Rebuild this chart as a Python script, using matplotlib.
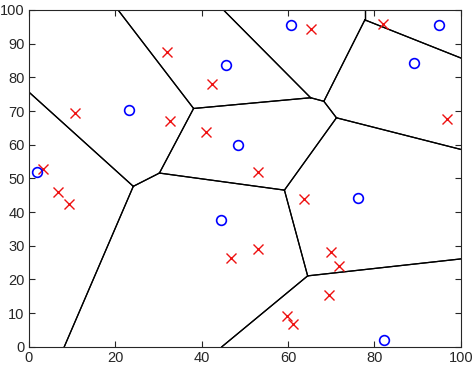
import numpy as np
import matplotlib
matplotlib.use("Agg")
import matplotlib.pyplot as plt

# blue sites (voronoi generators)
site_x = [1.9, 23.2, 45.6, 48.4, 60.7, 89.2, 94.9, 44.5, 76.2, 82.2]
site_y = [51.9, 70.3, 83.7, 59.9, 95.4, 84.2, 95.4, 37.6, 44.3, 2.0]

# red crosses
pt_x = [31.9, 42.3, 10.7, 32.7, 40.9, 3.3, 65.3, 82.0, 96.9, 53.0,
        6.8, 9.3, 46.9, 63.8, 53.1, 70.0, 71.9, 69.6, 59.8, 61.2]
pt_y = [87.4, 77.9, 69.3, 67.1, 63.7, 52.8, 94.4, 95.8, 67.5, 51.9,
        45.9, 42.4, 26.4, 43.9, 29.0, 28.1, 24.0, 15.4, 9.1, 6.7]

xlim = (0, 100)
ylim = (0, 100)


def clip(poly, a, b, c):
    # keep the part of poly with a*x + b*y <= c
    out = []
    n = len(poly)
    for k in range(n):
        p = poly[k]
        q = poly[(k + 1) % n]
        fp = a * p[0] + b * p[1] - c
        fq = a * q[0] + b * q[1] - c
        if fp <= 0:
            out.append(p)
        if fp * fq < 0:
            t = fp / (fp - fq)
            out.append((p[0] + t * (q[0] - p[0]), p[1] + t * (q[1] - p[1])))
    return out


def on_border(p, q):
    eps = 1e-6
    for v in (xlim[0], xlim[1]):
        if abs(p[0] - v) < eps and abs(q[0] - v) < eps:
            return True
    for v in (ylim[0], ylim[1]):
        if abs(p[1] - v) < eps and abs(q[1] - v) < eps:
            return True
    return False


fig, ax = plt.subplots(figsize=(4.74, 3.69), dpi=100)
fig.subplots_adjust(left=0.061, right=0.972, bottom=0.060, top=0.973)

# voronoi cells by half-plane clipping of the box
S = np.column_stack([site_x, site_y])
for i in range(len(S)):
    cell = [(xlim[0], ylim[0]), (xlim[1], ylim[0]), (xlim[1], ylim[1]), (xlim[0], ylim[1])]
    for j in range(len(S)):
        if i == j:
            continue
        a, b = S[j] - S[i]
        c = (np.dot(S[j], S[j]) - np.dot(S[i], S[i])) / 2
        cell = clip(cell, a, b, c)
    for k in range(len(cell)):
        p = cell[k]
        q = cell[(k + 1) % len(cell)]
        if not on_border(p, q):
            ax.plot([p[0], q[0]], [p[1], q[1]], color='k', lw=0.9)

ax.plot(pt_x, pt_y, 'x', color='#ee1111', ms=7, mew=1.0, ls='none')
ax.plot(site_x, site_y, 'o', mfc='none', mec='#0000ff', ms=7, mew=1.2, ls='none')

ax.set_xlim(xlim)
ax.set_ylim(ylim)
ax.set_xticks(np.arange(0, 101, 20))
ax.set_yticks(np.arange(0, 101, 10))
ax.tick_params(direction='in', top=True, right=True, length=4, width=0.8,
               labelsize=10.5, colors='#262626', pad=3)
for s in ax.spines.values():
    s.set_color('#262626')
    s.set_linewidth(0.8)
for lab in ax.get_xticklabels() + ax.get_yticklabels():
    lab.set_family('Liberation Sans')

fig.savefig('out.png', dpi=100)
